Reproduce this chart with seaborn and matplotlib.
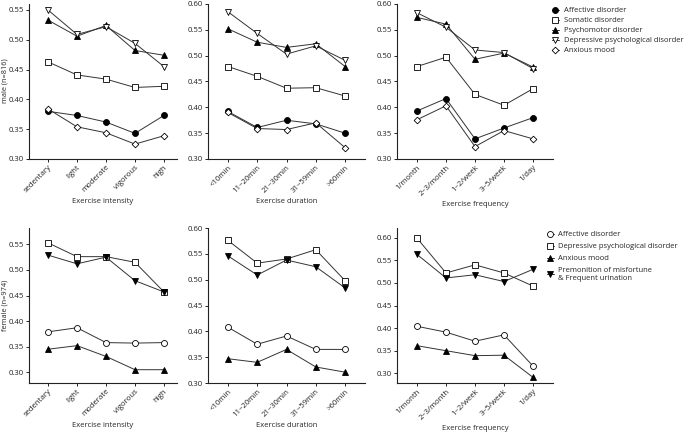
import seaborn as sns
import pandas as pd
import numpy as np
import matplotlib.pyplot as plt
from matplotlib.lines import Line2D

# categories
intensity = ["sedentary", "light", "moderate", "vigorous", "high"]
duration = ["<10min", "11~20min", "21~30min", "31~59min", ">60min"]
frequency = ["1/month", "2~3/month", "1~2/week", "3~5/week", "1/day"]

# male (n=816)
m_int_aff = [0.380, 0.373, 0.362, 0.343, 0.373]
m_int_som = [0.463, 0.441, 0.434, 0.420, 0.422]
m_int_psy = [0.533, 0.506, 0.524, 0.482, 0.474]
m_int_dep = [0.550, 0.509, 0.522, 0.494, 0.455]
m_int_anx = [0.384, 0.354, 0.344, 0.325, 0.339]

m_dur_aff = [0.392, 0.361, 0.375, 0.368, 0.350]
m_dur_som = [0.479, 0.460, 0.437, 0.438, 0.422]
m_dur_psy = [0.552, 0.526, 0.516, 0.523, 0.479]
m_dur_dep = [0.585, 0.543, 0.503, 0.519, 0.491]
m_dur_anx = [0.390, 0.359, 0.357, 0.370, 0.322]

m_frq_aff = [0.393, 0.417, 0.339, 0.360, 0.380]
m_frq_som = [0.479, 0.497, 0.425, 0.404, 0.436]
m_frq_psy = [0.574, 0.561, 0.493, 0.505, 0.478]
m_frq_dep = [0.583, 0.555, 0.511, 0.506, 0.475]
m_frq_anx = [0.376, 0.403, 0.324, 0.355, 0.339]

# female (n=974)
f_int_aff = [0.379, 0.387, 0.358, 0.357, 0.358]
f_int_dep = [0.553, 0.526, 0.526, 0.515, 0.457]
f_int_anx = [0.345, 0.352, 0.331, 0.305, 0.305]
f_int_pre = [0.529, 0.512, 0.525, 0.479, 0.457]

f_dur_aff = [0.408, 0.375, 0.391, 0.365, 0.365]
f_dur_dep = [0.576, 0.532, 0.540, 0.558, 0.498]
f_dur_anx = [0.347, 0.340, 0.365, 0.331, 0.321]
f_dur_pre = [0.546, 0.509, 0.538, 0.525, 0.484]

f_frq_aff = [0.404, 0.391, 0.371, 0.385, 0.316]
f_frq_dep = [0.599, 0.522, 0.540, 0.522, 0.493]
f_frq_anx = [0.361, 0.350, 0.339, 0.340, 0.291]
f_frq_pre = [0.563, 0.511, 0.518, 0.503, 0.530]

male_names = ["Affective disorder", "Somatic disorder", "Psychomotor disorder",
              "Depressive psychological disorder", "Anxious mood"]
female_names = ["Affective disorder", "Depressive psychological disorder", "Anxious mood",
                "Premonition of misfortune\n& Frequent urination"]

# marker, filled?
male_style = [("o", True), ("s", False), ("^", True), ("v", False), ("D", False)]
female_style = [("o", False), ("s", False), ("^", True), ("v", True)]

sns.set_style("ticks")
plt.rcParams['font.family'] = ['Open Sans', 'DejaVu Sans']
plt.rcParams['font.size'] = 5.5

W, H = 685, 436
fig = plt.figure(figsize=(W / 100, H / 100), dpi=100)

line_c = '#333333'
msize = {"o": 4.3, "s": 4.5, "^": 4.6, "v": 4.6, "D": 3.4}


def px_axes(l, r, t, b):
    return fig.add_axes([l / W, 1 - b / H, (r - l) / W, (b - t) / H])


cols = [(29, 177, (-0.655, 4.45)), (208, 365, (-0.68, 4.68)), (397, 553, (-0.69, 4.69))]
rows = [(4, 159), (228, 383)]

panels = [
    (0, 0, intensity, "Exercise intensity", [m_int_aff, m_int_som, m_int_psy, m_int_dep, m_int_anx], male_style, (0.30, 0.56), np.arange(0.30, 0.551, 0.05)),
    (0, 1, duration, "Exercise duration", [m_dur_aff, m_dur_som, m_dur_psy, m_dur_dep, m_dur_anx], male_style, (0.30, 0.60), np.arange(0.30, 0.601, 0.05)),
    (0, 2, frequency, "Exercise frequency", [m_frq_aff, m_frq_som, m_frq_psy, m_frq_dep, m_frq_anx], male_style, (0.30, 0.60), np.arange(0.30, 0.601, 0.05)),
    (1, 0, intensity, "Exercise intensity", [f_int_aff, f_int_dep, f_int_anx, f_int_pre], female_style, (0.279, 0.582), np.arange(0.30, 0.551, 0.05)),
    (1, 1, duration, "Exercise duration", [f_dur_aff, f_dur_dep, f_dur_anx, f_dur_pre], female_style, (0.30, 0.60), np.arange(0.30, 0.601, 0.05)),
    (1, 2, frequency, "Exercise frequency", [f_frq_aff, f_frq_dep, f_frq_anx, f_frq_pre], female_style, (0.2785, 0.6215), np.arange(0.30, 0.601, 0.05)),
]

for r, c, cats, xlab, series, styles, ylim, yt in panels:
    t, b = rows[r]
    l, rr, xl = cols[c]
    ax = px_axes(l, rr, t, b)
    pos = np.arange(len(cats))
    for vals, (m, filled) in zip(series, styles):
        sns.lineplot(x=pos, y=vals, ax=ax, color=line_c, linewidth=0.7,
                     marker=m, markersize=msize[m], markeredgewidth=0.6,
                     markeredgecolor='black',
                     markerfacecolor='black' if filled else 'white',
                     clip_on=False, zorder=3)
    ax.set_xlim(*xl)
    ax.set_ylim(*ylim)
    ax.set_yticks(yt)
    ax.set_yticklabels([f"{v:.2f}" for v in yt])
    ax.set_xticks(pos)
    ax.set_xticklabels(cats, rotation=45, ha='right', rotation_mode='anchor')
    ax.set_xlabel(xlab, fontsize=5.5, labelpad=3)
    ax.set_ylabel("")
    for s in ["top", "right"]:
        ax.spines[s].set_visible(False)
    for s in ["left", "bottom"]:
        ax.spines[s].set_linewidth(0.8)
        ax.spines[s].set_color('#222222')
    ax.tick_params(direction='out', length=2.5, width=0.7, labelsize=5.6, pad=1, colors='#222222')

# row labels
fig.text(5 / W, 1 - 81 / H, "male (n=816)", rotation=90, ha='center', va='center', fontsize=5.3)
fig.text(5 / W, 1 - 305 / H, "female (n=974)", rotation=90, ha='center', va='center', fontsize=5.3)


def make_handles(styles):
    hs = []
    for m, filled in styles:
        hs.append(Line2D([], [], color=line_c, linewidth=0.7, marker=m, markersize=msize[m],
                         markeredgewidth=0.6, markeredgecolor='black',
                         markerfacecolor='black' if filled else 'white'))
    return hs


fig.legend(make_handles(male_style), male_names, loc='upper left',
           bbox_to_anchor=(552 / W, 1 - 7 / H), frameon=False, fontsize=5.5,
           handlelength=0.9, handletextpad=0.7, labelspacing=0.35, borderpad=0, borderaxespad=0)
fig.legend(make_handles(female_style), female_names, loc='upper left',
           bbox_to_anchor=(547 / W, 1 - 231 / H), frameon=False, fontsize=5.5,
           handlelength=0.9, handletextpad=0.6, labelspacing=0.6, borderpad=0, borderaxespad=0)

fig.savefig("out.png", dpi=100)
